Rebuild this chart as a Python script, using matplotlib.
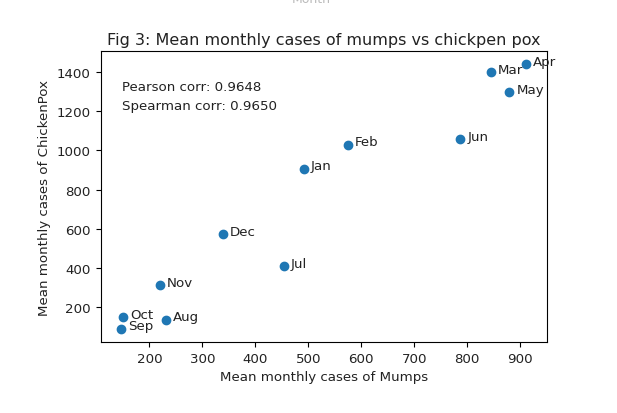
import matplotlib
matplotlib.use("Agg")
import matplotlib.pyplot as plt

months = ["Jan", "Feb", "Mar", "Apr", "May", "Jun", "Jul", "Aug", "Sep", "Oct", "Nov", "Dec"]
mumps = [492, 575, 845, 912, 880, 787, 454, 231, 146, 151, 220, 339]
chickenpox = [906, 1028, 1398, 1439, 1298, 1057, 409, 137, 89, 150, 313, 573]
corr_text = ["Pearson corr: 0.9648", "Spearman corr: 0.9650"]

plt.rcParams['font.size'] = 9.6
plt.rcParams['text.color'] = '#222222'
plt.rcParams['axes.labelcolor'] = '#222222'
plt.rcParams['xtick.labelcolor'] = '#222222'
plt.rcParams['ytick.labelcolor'] = '#222222'
fig = plt.figure(figsize=(6.17, 4.14), dpi=100)
ax = fig.add_axes([0.163, 0.171, 0.723, 0.703])
ax.scatter(mumps, chickenpox, color="#1f77b4")
for m, x, y in zip(months, mumps, chickenpox):
    ax.annotate(m, (x, y), xytext=(7, 3), textcoords="offset pixels", va="center")
ax.text(0.047, 0.877, corr_text[0], transform=ax.transAxes, va="center")
ax.text(0.047, 0.812, corr_text[1], transform=ax.transAxes, va="center")
ax.set_title("Fig 3: Mean monthly cases of mumps vs chickpen pox", fontsize=11.5, pad=5)
ax.set_xlabel("Mean monthly cases of Mumps")
ax.set_ylabel("Mean monthly cases of ChickenPox")
ax.set_xticks([200, 300, 400, 500, 600, 700, 800, 900])
ax.set_yticks([200, 400, 600, 800, 1000, 1200, 1400])
fig.text(0.505, 0.992, "Month", ha="center", va="baseline", color="#bbbbbb", fontsize=9)
fig.savefig("out.png", dpi=100)
